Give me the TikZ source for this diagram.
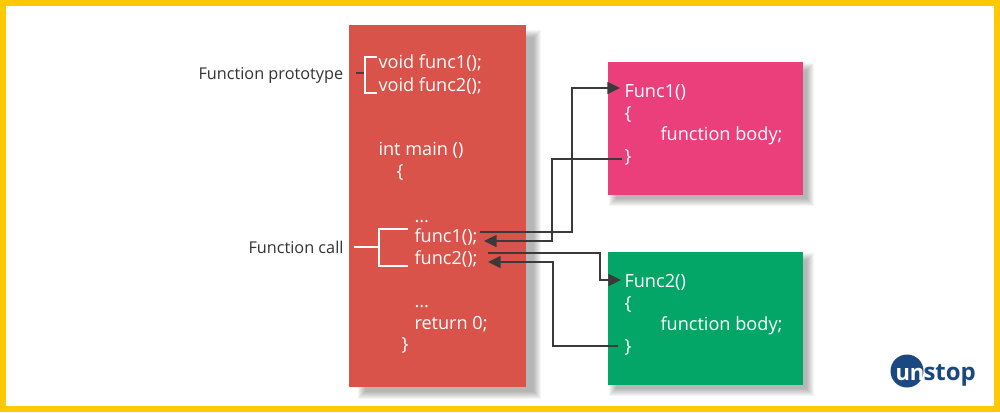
\documentclass[tikz,border=0pt]{standalone}
\usepackage{fontspec}
\setmainfont{Open Sans}
\usetikzlibrary{arrows.meta}

\definecolor{framecol}{RGB}{255,200,0}
\definecolor{mainred}{RGB}{217,83,74}
\definecolor{funcpink}{RGB}{235,63,124}
\definecolor{funcgreen}{RGB}{3,166,103}
\definecolor{wirecol}{RGB}{58,58,58}
\definecolor{logoblue}{RGB}{27,72,128}

\tikzset{every picture/.style={line width=0.75pt}}
\tikzset{
  codetext/.style={anchor=base west,inner sep=0pt,text=white,font=\fontsize{13.6}{16}\selectfont},
  sidetext/.style={anchor=base west,inner sep=0pt,text=black!80,font=\fontsize{12.2}{14}\selectfont},
  wire/.style={draw=wirecol,line width=1.1pt},
  wirearrow/.style={wire,-{Triangle[length=9.5pt,width=9pt]}},
  bracket/.style={draw=white,line width=1.1pt},
  sidebracket/.style={draw=black!75,line width=1.1pt},
  softshadow/.style={fill=black,fill opacity=0.04,draw=none},
  codebox/.style={anchor=north west,inner sep=0pt,outer sep=0pt,draw=none}
}

\begin{document}
\begin{tikzpicture}[x=0.75pt,y=0.75pt,yscale=-1,xscale=1]
\useasboundingbox (0,0) rectangle (1000,412);

%Frame
\fill [white] (0,0) rectangle (1000,412);
\draw [framecol,line width=4.5pt] (3,3) rectangle (997,409);

%Shadows
\foreach \s in {0,1,...,7} {
  \fill [softshadow] (358-\s+7,30-\s+7) rectangle (531+\s+3,392+\s);
  \fill [softshadow] (613-\s+3,67-\s+3) rectangle (807+\s,199+\s);
  \fill [softshadow] (613-\s+3,257-\s+3) rectangle (807+\s,389+\s);
}

%Boxes
\node [codebox,fill=mainred,minimum width=132.75pt,minimum height=271.5pt] (mainbox) at (349,25) {};
\node [codebox,fill=funcpink,minimum width=146.25pt,minimum height=99.75pt] (funconebox) at (608,62) {};
\node [codebox,fill=funcgreen,minimum width=146.25pt,minimum height=99.75pt] (functwobox) at (608,252) {};

% Text Node
\draw (378,68) node [codetext] (protoone) {void func1();};
\draw (378,91) node [codetext] (prototwo) {void func2();};
\draw (378,155) node [codetext] (mainhead) {int main ()};
\draw (396,177) node [codetext] (mainopen) {\{};
\draw (414,222) node [codetext] (dotsone) {...};
\draw (414,242) node [codetext] (callone) {func1();};
\draw (414,264) node [codetext] (calltwo) {func2();};
\draw (414,307) node [codetext] (dotstwo) {...};
\draw (414,329) node [codetext] (retzero) {return 0;};
\draw (401,350) node [codetext] (mainclose) {\}};

\draw (624,97) node [codetext] (funconehead) {Func1()};
\draw (624,119) node [codetext] (funconeopen) {\{};
\draw (660,140) node [codetext] (funconebody) {function body;};
\draw (624,162) node [codetext] (funconeclose) {\}};

\draw (624,287) node [codetext] (functwohead) {Func2()};
\draw (624,309) node [codetext] (functwoopen) {\{};
\draw (660,330) node [codetext] (functwobody) {function body;};
\draw (624,352) node [codetext] (functwoclose) {\}};

\draw (198,79) node [sidetext] (protolabel) {Function prototype};
\draw (248,253) node [sidetext] (calllabel) {Function call};

%Brackets
\draw [sidebracket] (356,73) -- (365,73);
\draw [bracket] (377,57) -- (365,57) -- (365,93) -- (377,93);
\draw [bracket] (354,247) -- (379,247);
\draw [bracket] (408,229) -- (379,229) -- (379,266) -- (408,266);

%Connector ends
\coordinate (oneout) at (480,232);
\coordinate (onein) at (620,88);
\coordinate (oneback) at (622,159);
\coordinate (onereturn) at (484,241);
\coordinate (twoout) at (488,253);
\coordinate (twoin) at (621,280);
\coordinate (twoback) at (618,346);
\coordinate (tworeturn) at (488,262);
\coordinate (kneea) at (572,88);
\coordinate (kneeb) at (552,159);
\coordinate (kneec) at (600,280);
\coordinate (kneed) at (553,346);

%Connectors
\draw [wirearrow] (oneout) -| (kneea) -- (onein);
\draw [wirearrow] (oneback) -- (kneeb) |- (onereturn);
\draw [wirearrow] (twoout) -| (kneec) -- (twoin);
\draw [wirearrow] (twoback) -- (kneed) |- (tworeturn);

%Logo
\node [circle,fill=logoblue,minimum size=24.75pt,inner sep=0pt,outer sep=0pt] (logodisc) at (907,371) {};
\draw (895,380) node [anchor=base west,inner sep=0pt,text=white,font=\fontsize{16.5}{20}\bfseries\selectfont] (logoun) {un};
\draw (923,380) node [anchor=base west,inner sep=0pt,text=logoblue,font=\fontsize{18}{20}\bfseries\selectfont] (logostop) {stop};

\end{tikzpicture}
\end{document}
